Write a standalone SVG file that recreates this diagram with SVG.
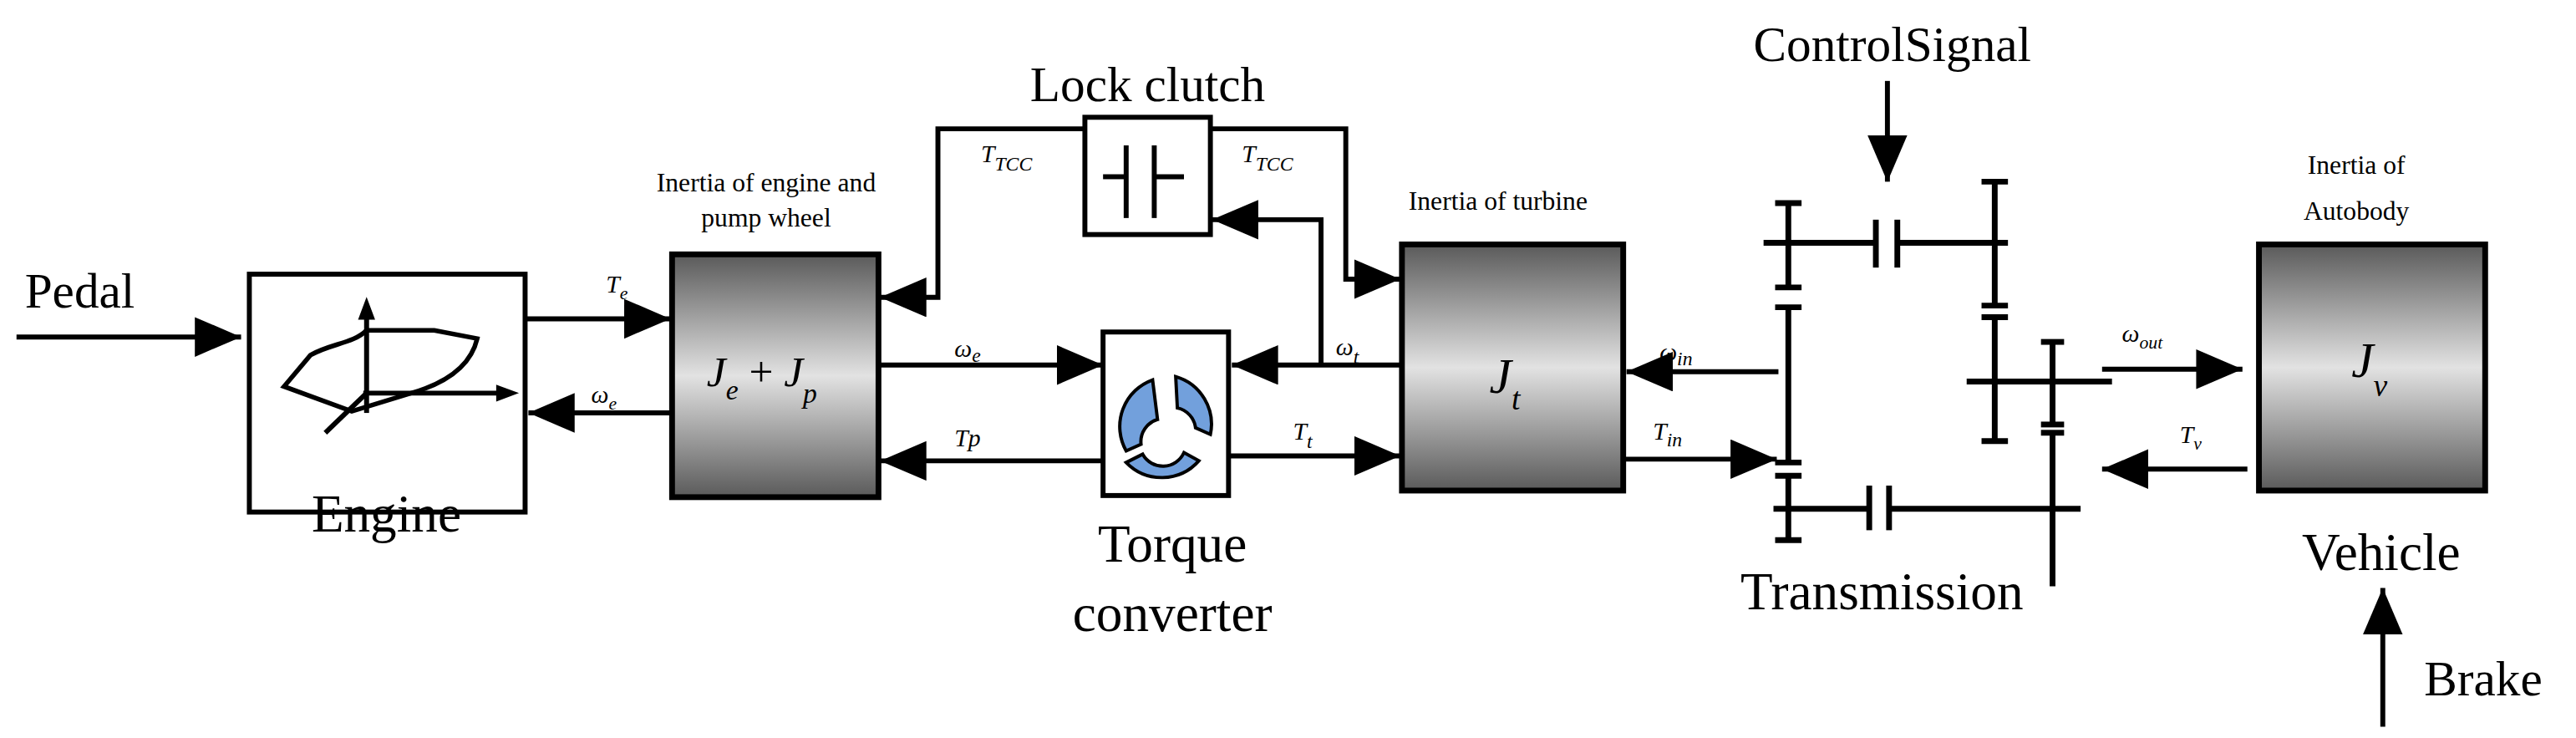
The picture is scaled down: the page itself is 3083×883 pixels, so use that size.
<svg xmlns="http://www.w3.org/2000/svg" width="3083" height="883" viewBox="0 0 3083 883">
<style>
.t{font-family:"Liberation Serif",serif;fill:#000}
.m{font-family:"Liberation Serif",serif;font-style:italic;fill:#000}
.ln{fill:none;stroke:#000;stroke-width:3}
.bx{fill:#fff;stroke:#000;stroke-width:3}
.gb{fill:url(#gr);stroke:#000;stroke-width:3.5}
.gear{fill:none;stroke:#000;stroke-width:3.5}
</style>
<defs>
<linearGradient id="gr" x1="0" y1="0" x2="0" y2="1">
<stop offset="0" stop-color="#5a5a5a"/><stop offset="0.5" stop-color="#e2e2e2"/><stop offset="1" stop-color="#5a5a5a"/>
</linearGradient>
<marker id="ah" markerUnits="userSpaceOnUse" markerWidth="30" markerHeight="26" refX="28" refY="12" orient="auto">
<path d="M0,0 L28,12 L0,24 Z" fill="#000"/>
</marker>
</defs>
<rect width="3083" height="883" fill="#fff"/>
<g transform="scale(1.97628)">
<g id="connectors">
<line class="ln" x1="10" y1="204" x2="146" y2="204" marker-end="url(#ah)"/>
<line class="ln" x1="318" y1="193" x2="406" y2="193" marker-end="url(#ah)"/>
<line class="ln" x1="406" y1="250" x2="320" y2="250" marker-end="url(#ah)"/>
<polyline class="ln" points="657,78 568,78 568,180 533,180" marker-end="url(#ah)"/>
<polyline class="ln" points="733,78 815,78 815,169 848,169" marker-end="url(#ah)"/>
<line class="ln" x1="533" y1="221" x2="668" y2="221" marker-end="url(#ah)"/>
<line class="ln" x1="849" y1="221" x2="746" y2="221" marker-end="url(#ah)"/>
<polyline class="ln" points="800,221 800,133 734,133" marker-end="url(#ah)"/>
<line class="ln" x1="668" y1="279" x2="533" y2="279" marker-end="url(#ah)"/>
<line class="ln" x1="744" y1="276" x2="848" y2="276" marker-end="url(#ah)"/>
<line class="ln" x1="983" y1="278" x2="1076" y2="278" marker-end="url(#ah)"/>
<line class="ln" x1="1077" y1="225" x2="985" y2="225" marker-end="url(#ah)"/>
<line class="ln" x1="1143" y1="49" x2="1143" y2="110" marker-end="url(#ah)"/>
<line class="ln" x1="1273" y1="223.5" x2="1358" y2="223.5" marker-end="url(#ah)"/>
<line class="ln" x1="1361" y1="284" x2="1273" y2="284" marker-end="url(#ah)"/>
<line class="ln" x1="1443" y1="440" x2="1443" y2="356" marker-end="url(#ah)"/>
</g>
<g id="pedal"><text class="t" x="15" y="186" font-size="30">Pedal</text></g>
<g id="engine">
<rect class="bx" x="151" y="166" width="167" height="144"/>
<g class="ln" stroke-width="2.2">
<line x1="222" y1="250" x2="222" y2="186"/><path d="M219,192 L222,184 L225,192 Z" fill="#000"/>
<line x1="220" y1="238" x2="305" y2="238"/><path d="M302,235 L310,238 L302,241 Z" fill="#000"/>
<line x1="222" y1="238" x2="197" y2="262"/>
<path d="M222,200 L263,200 L289,205 C285,222 270,232 249,238 L213,249 L172,234 L188,215 C200,208 214,208 222,200" stroke-width="2.8"/>
</g>
<text class="t" x="234" y="322" font-size="32" text-anchor="middle">Engine</text>
</g>
<g id="inertia-engine">
<text class="t" x="464" y="116" font-size="16" text-anchor="middle">Inertia of engine and</text>
<text class="t" x="464" y="137" font-size="16" text-anchor="middle">pump wheel</text>
<rect class="gb" x="407" y="154" width="125" height="147"/>
<text class="m" x="428" y="234" font-size="26">J<tspan font-size="17" dy="8">e</tspan><tspan font-style="normal" dy="-8"> + </tspan>J<tspan font-size="17" dy="10">p</tspan></text>
</g>
<g id="lock-clutch">
<text class="t" x="695" y="61" font-size="30" text-anchor="middle">Lock clutch</text>
<rect class="bx" x="657" y="71" width="76" height="71"/>
<g class="ln"><line x1="682" y1="88" x2="682" y2="132"/><line x1="699" y1="88" x2="699" y2="132"/><line x1="668" y1="107" x2="682" y2="107"/><line x1="699" y1="107" x2="717" y2="107"/></g>
</g>
<g id="torque-converter">
<rect class="bx" x="668" y="201" width="76" height="99"/>
<g fill="#72a0dc" stroke="#000" stroke-width="2">
<path d="M698,230 L701,254 A14,14 0 0 0 691,269 L682,273 A30,30 0 0 1 698,230 Z"/>
<path d="M712,228 A30,30 0 0 1 733,263 L724,259 A14,14 0 0 0 713,247 Z"/>
<path d="M682,280 L692,275 A14,14 0 0 0 717,274 L726,279 A30,30 0 0 1 682,280 Z"/>
</g>
<text class="t" x="710" y="340" font-size="32" text-anchor="middle">Torque</text>
<text class="t" x="710" y="382" font-size="32" text-anchor="middle">converter</text>
</g>
<g id="inertia-turbine">
<text class="t" x="853" y="127" font-size="16">Inertia of turbine</text>
<rect class="gb" x="849" y="148" width="134" height="149"/>
<text class="m" x="902" y="238" font-size="30">J<tspan font-size="19" dy="10">t</tspan></text>
</g>
<g id="transmission">
<text class="t" x="1146" y="37" font-size="30" text-anchor="middle">ControlSignal</text>
<g class="gear">
<line x1="1083" y1="123" x2="1083" y2="174"/><line x1="1075" y1="123" x2="1091" y2="123"/><line x1="1075" y1="174" x2="1091" y2="174"/>
<line x1="1068" y1="147" x2="1136" y2="147"/><line x1="1149" y1="147" x2="1216" y2="147"/>
<line x1="1136" y1="133" x2="1136" y2="162"/><line x1="1149" y1="133" x2="1149" y2="162"/>
<line x1="1208" y1="110" x2="1208" y2="185"/><line x1="1200" y1="110" x2="1216" y2="110"/><line x1="1200" y1="185" x2="1216" y2="185"/>
<line x1="1208" y1="192" x2="1208" y2="267"/><line x1="1200" y1="192" x2="1216" y2="192"/><line x1="1200" y1="267" x2="1216" y2="267"/>
<line x1="1191" y1="231" x2="1279" y2="231"/>
<line x1="1083" y1="186" x2="1083" y2="280"/><line x1="1075" y1="186" x2="1091" y2="186"/><line x1="1075" y1="280" x2="1091" y2="280"/>
<line x1="1083" y1="288" x2="1083" y2="327"/><line x1="1075" y1="288" x2="1091" y2="288"/><line x1="1075" y1="327" x2="1091" y2="327"/>
<line x1="1074" y1="308" x2="1132" y2="308"/><line x1="1144" y1="308" x2="1260" y2="308"/>
<line x1="1132" y1="294" x2="1132" y2="321"/><line x1="1144" y1="294" x2="1144" y2="321"/>
<line x1="1243" y1="207" x2="1243" y2="257"/><line x1="1236" y1="207" x2="1250" y2="207"/><line x1="1236" y1="257" x2="1250" y2="257"/>
<line x1="1243" y1="262" x2="1243" y2="355"/><line x1="1236" y1="262" x2="1250" y2="262"/>
</g>
<text class="t" x="1054" y="369" font-size="32">Transmission</text>
</g>
<g id="vehicle">
<text class="t" x="1427" y="105" font-size="16" text-anchor="middle">Inertia of</text>
<text class="t" x="1427" y="133" font-size="16" text-anchor="middle">Autobody</text>
<rect class="gb" x="1368" y="148" width="137" height="149"/>
<text class="m" x="1424" y="228" font-size="30">J<tspan font-size="19" dy="12">v</tspan></text>
<text class="t" x="1442" y="345" font-size="32" text-anchor="middle">Vehicle</text>
<text class="t" x="1468" y="421" font-size="30">Brake</text>
</g>
<g id="labels" class="m" font-size="15">
<text x="367" y="177">T<tspan font-size="11" dy="4">e</tspan></text>
<text x="358" y="244">ω<tspan font-size="11" dy="4">e</tspan></text>
<text x="594" y="98">T<tspan font-size="12" dy="5">TCC</tspan></text>
<text x="752" y="98">T<tspan font-size="12" dy="5">TCC</tspan></text>
<text x="578" y="216">ω<tspan font-size="12" dy="3">e</tspan></text>
<text x="578" y="270">Tp</text>
<text x="809" y="215">ω<tspan font-size="12" dy="5">t</tspan></text>
<text x="783" y="266">T<tspan font-size="12" dy="5">t</tspan></text>
<text x="1001" y="266">T<tspan font-size="12" dy="4">in</tspan></text>
<text x="1005" y="218">ω<tspan font-size="12" dy="3">in</tspan></text>
<text x="1285" y="207">ω<tspan font-size="11" dy="4">out</tspan></text>
<text x="1320" y="268">T<tspan font-size="11" dy="4">v</tspan></text>
</g>
</g>
</svg>
